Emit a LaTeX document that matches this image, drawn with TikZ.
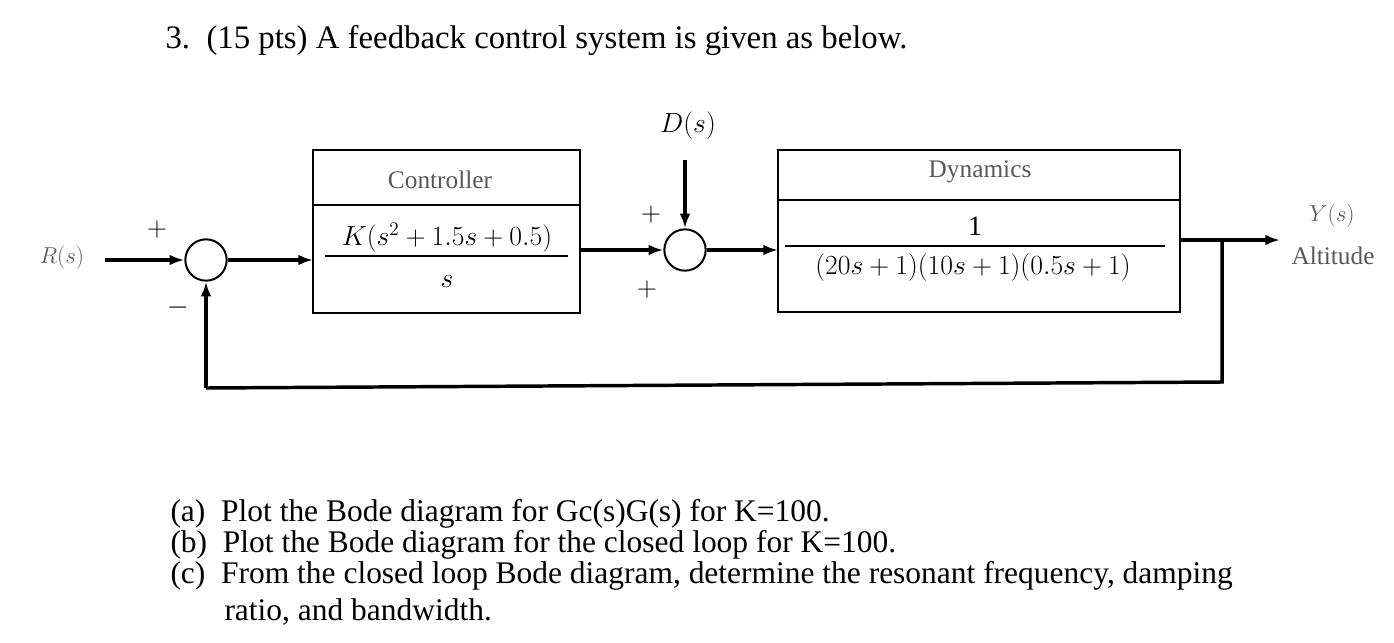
\documentclass[tikz,border=0pt]{standalone}
\usepackage{fontspec}
\setmainfont{Liberation Serif}
\usetikzlibrary{arrows.meta}
\tikzset{every picture/.style={line width=0.75pt}}
\tikzset{
  sig/.style={line width=2.6pt},
  sigarr/.style={line width=2.6pt,-{Latex[length=11pt,width=8pt]}},
  sumj/.style={circle,draw,line width=1.5pt,minimum size=31pt,inner sep=0pt},
  lbl/.style={inner sep=0.75pt,font=\fontsize{19}{22}\selectfont},
  mlbl/.style={inner sep=0.75pt,font=\fontsize{21}{24}\selectfont},
  txt/.style={anchor=west,inner sep=0pt,font=\fontsize{23.6}{27}\selectfont}
}
\begin{document}
\begin{tikzpicture}[x=0.75pt,y=0.75pt,yscale=-1,xscale=1]
\useasboundingbox (0,0) rectangle (1394,642);

% Title
\node [anchor=west,inner sep=0pt,font=\fontsize{24.6}{28}\selectfont] (title) at (165,40) {3.\ \ (15 pts) A feedback control system is given as below.};

% Blocks
\draw [line width=1.2pt] (313,150) rectangle (580,313);
\draw [line width=1.2pt] (313,205) -- (580,205);
\draw [line width=1.2pt] (778,150) rectangle (1180,312);
\draw [line width=1.2pt] (778,200) -- (1180,200);
\node [lbl,gray!70!black] (ctrl) at (440,180) {Controller};
\node [mlbl] (cnum) at (447,238) {$K(s^2+1.5s+0.5)$};
\draw [line width=1.2pt] (325,256) -- (568,256);
\node [mlbl] (cden) at (447,282) {$s$};
\node [lbl,gray!70!black] (dyn) at (980,172) {Dynamics};
\node [mlbl] (dnum) at (975,226) {1};
\node [mlbl] (dden) at (973,268) {$(20s+1)(10s+1)(0.5s+1)$};
\draw [line width=1.2pt] (785,246) -- (1165,246);

% Junctions
\node [sumj] (s1) at (206,260) {};
\node [sumj] (s2) at (685,250) {};
\coordinate (cin) at (313,260);
\coordinate (cout) at (580,250);
\coordinate (din) at (778,250);
\coordinate (dout) at (1180,240);
\coordinate (tap) at (1222,240);
\coordinate (yout) at (1280,240);
\coordinate (fb1) at (1222,382);
\coordinate (fb2) at (206,388);

% Signals
\node [lbl,gray!70!black] (r) at (62,258) {$R(s)$};
\coordinate (rin) at (105,260);
\draw [sigarr] (rin) -- (s1.west);
\draw [sigarr] (s1.east) -- (cin);
\draw [sigarr] (cout) -- (s2.west);
\node [mlbl] (d) at (688,126) {$D(s)$};
\coordinate (dtop) at (685,160);
\draw [sigarr] (dtop) -- (s2.north);
\draw [sigarr] (s2.east) -- (din);
\draw [sigarr] (dout) -- (yout);
\draw [sig] (tap) -- (fb1) -- (fb2);
\draw [sigarr] (fb2) -- (s1.south);
\node [lbl,gray!70!black] (y) at (1332,216) {$Y(s)$};
\node [lbl,gray!70!black] (alt) at (1333,256) {Altitude};

% Signs
\node [mlbl] (p1) at (157,230) {$+$};
\node [mlbl] (m1) at (178,308) {$-$};
\node [mlbl] (p2) at (651,215) {$+$};
\node [mlbl] (p3) at (647,290) {$+$};

% Questions
\node [txt] (qa) at (170,514) {(a)\ \ Plot the Bode diagram for Gc(s)G(s) for K=100.};
\node [txt] (qb) at (170,545) {(b)\ \ Plot the Bode diagram for the closed loop for K=100.};
\node [txt] (qc) at (170,576) {(c)\ \ From the closed loop Bode diagram, determine the resonant frequency, damping};
\node [txt] (qd) at (224,612) {ratio, and bandwidth.};
\end{tikzpicture}
\end{document}
